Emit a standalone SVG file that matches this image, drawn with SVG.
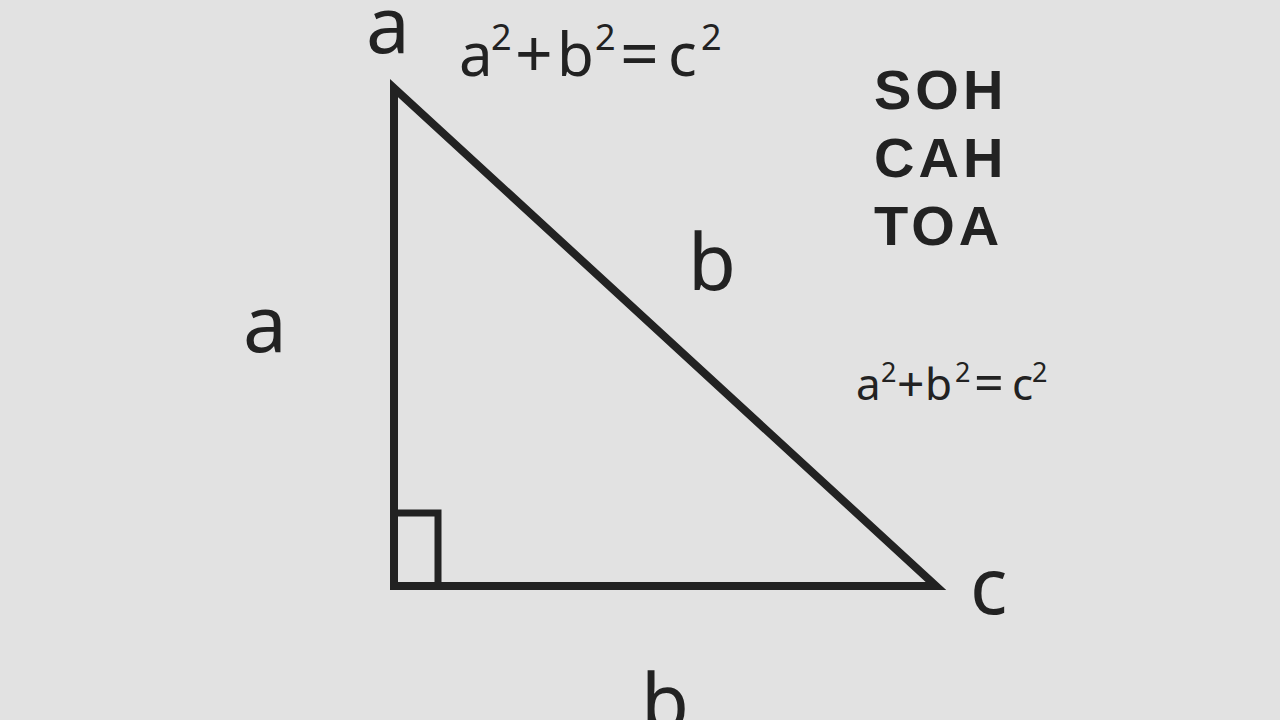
<svg xmlns="http://www.w3.org/2000/svg" width="1280" height="720" viewBox="0 0 1280 720">
<style>
.lbl{font-family:"Noto Sans","Open Sans",sans-serif;fill:#222;}
.big{font-size:78px;}
.mnem{font-family:"Liberation Sans",Arial,sans-serif;font-weight:bold;font-size:56px;letter-spacing:4px;fill:#222;}
.eq{font-family:"Noto Sans","Open Sans",sans-serif;fill:#222;}
</style>
<rect width="1280" height="720" fill="#e2e2e2"/>
<g id="triangle">
<polygon points="394,88 394,586 936,586" fill="none" stroke="#222" stroke-width="8" stroke-linejoin="miter" stroke-miterlimit="10"/>
<rect x="394" y="513" width="44" height="73" fill="none" stroke="#222" stroke-width="7"/>
</g>
<g id="labels">
<text class="lbl big" x="366" y="53">a</text>
<text class="lbl big" x="243" y="352">a</text>
<text class="lbl big" x="688" y="290">b</text>
<text class="lbl big" x="970" y="614">c</text>
<text class="lbl big" x="641" y="730">b</text>
</g>
<g id="formula-top" class="eq">
<text x="459" y="76" font-size="60">a</text>
<text x="491" y="50" font-size="36">2</text>
<text x="515" y="77" font-size="66">+</text>
<text x="557" y="76" font-size="60">b</text>
<text x="595" y="50" font-size="36">2</text>
<text x="620" y="78" font-size="68">=</text>
<text x="668" y="76" font-size="60">c</text>
<text x="701" y="50" font-size="36">2</text>
</g>
<g id="formula-right" class="eq">
<text x="856" y="400" font-size="44">a</text>
<text x="881" y="382" font-size="27">2</text>
<text x="897" y="401" font-size="48">+</text>
<text x="925" y="400" font-size="44">b</text>
<text x="955" y="382" font-size="27">2</text>
<text x="974" y="402" font-size="52">=</text>
<text x="1012" y="400" font-size="44">c</text>
<text x="1032" y="382" font-size="27">2</text>
</g>
<g id="mnemonic">
<text class="mnem" x="874" y="109">SOH</text>
<text class="mnem" x="874" y="177">CAH</text>
<text class="mnem" x="874" y="245">TOA</text>
</g>
</svg>
